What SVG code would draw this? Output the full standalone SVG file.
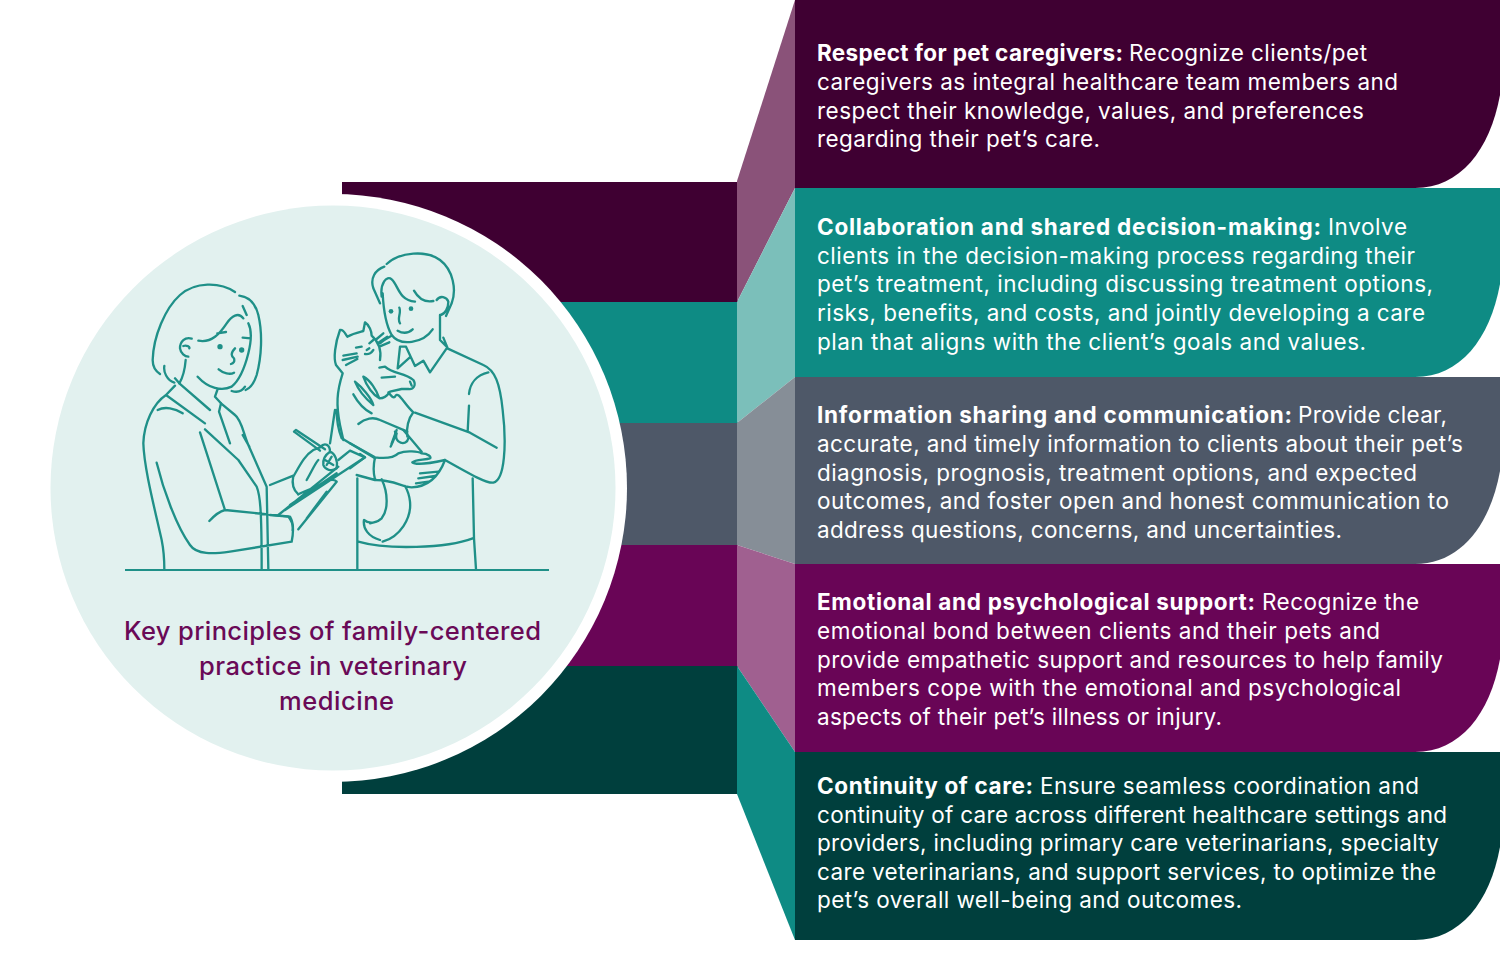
<svg xmlns="http://www.w3.org/2000/svg" width="1500" height="965" viewBox="0 0 1500 965">
<style>
.t{font-family:"Inter","Open Sans","Liberation Sans",sans-serif;font-size:22.5px;fill:#fff;font-weight:400}
.b{font-weight:700}
.c{font-family:"Inter","Open Sans","Liberation Sans",sans-serif;font-size:25.5px;fill:#6a0a57;font-weight:500}
.l{fill:none;stroke:#1f9088;stroke-width:7;stroke-linecap:round;stroke-linejoin:round}
.d{fill:#1f9088}
</style>
<rect width="1500" height="965" fill="#fff"/>
<g id="connectors">
<rect x="342" y="182" width="396" height="120" fill="#3f0032"/>
<rect x="342" y="302" width="396" height="121" fill="#0e8b84"/>
<rect x="342" y="423" width="396" height="122" fill="#4e5868"/>
<rect x="342" y="545" width="396" height="121" fill="#690556"/>
<rect x="342" y="666" width="396" height="128" fill="#003f3d"/>
<polygon points="737,181 795,0 795,188 737,302" fill="#8a5279"/>
<polygon points="737,302 795,188 795,377 737,423" fill="#7bbfba"/>
<polygon points="737,423 795,377 795,564 737,545" fill="#868e97"/>
<polygon points="737,545 795,564 795,752 737,666" fill="#a06090"/>
<polygon points="737,666 795,752 795,940 737,794" fill="#0e8b84"/>
</g>
<g id="hub">
<circle cx="333" cy="488" r="294" fill="#fff"/>
<circle cx="333" cy="488" r="282.5" fill="#e2f1ef"/>
<g transform="translate(120 240) scale(.33333)">
<path class="l" d="M345 156C300 125 225 125 180 165C135 205 100 290 98 360C98 380 105 392 120 402M358 167C385 170 405 185 415 225C428 280 425 350 410 405C402 430 390 445 377 450M368 198L380 225M235 302C275 310 300 280 320 250C335 228 355 215 370 235M133 378C130 395 140 420 163 428M215 296C195 290 180 305 180 325C182 340 195 350 205 350M190 318C200 315 210 320 208 325M197 360C195 385 190 410 178 430L165 415M385 250C395 270 395 300 385 340C375 380 360 420 335 440C305 455 265 445 233 410M335 453C350 458 365 455 375 440M368 293L392 295M292 280L318 276M345 325C330 340 335 350 342 355C345 365 340 370 333 372M296 388C310 400 330 405 342 398M292 450L285 470L303 490"/>
<circle class="d" cx="300" cy="320" r="8"/><circle class="d" cx="365" cy="330" r="8"/>
<path class="l" d="M178 430L270 510M165 437L138 465L255 550M138 465C100 490 72 550 70 610C72 680 100 790 125 900C133 940 133 965 133 988M113 510C135 498 165 505 188 520M255 568L355 660M303 490L297 515L330 610M303 490L345 525C365 540 370 580 385 615L440 740L445 988M240 577L315 810M368 585L388 620M355 660L410 740C420 765 425 800 425 988M110 668C130 750 170 860 210 915C230 945 280 942 330 935L515 905C520 880 522 850 510 830L315 810C295 815 280 830 268 843"/>
</g>
<g transform="translate(270 410) scale(.33333)">
<path class="l" d="M0 225L70 197C65 220 70 240 85 253M70 200C90 165 105 135 130 120L150 112M110 210C125 185 135 160 145 150M72 65L78 60L165 118M72 65L150 122M150 112C165 95 180 105 180 125C195 130 205 155 200 175C185 185 165 180 160 165C158 150 165 135 180 125M165 150L190 165M170 165L185 140"/>
<path class="l" d="M25 315L205 170M205 150L240 122L285 142L45 300M60 285L200 190M85 253C100 245 130 235 150 225M85 358L200 215C190 205 170 210 150 225M110 325L170 245M0 315L55 320C70 340 70 350 68 360M195 0C190 30 185 70 180 100M200 0C200 30 205 60 215 85L315 145"/>
</g>
<g transform="translate(320 240) scale(.33333)">
<path class="l" d="M200 72C240 35 320 30 360 60C400 90 410 150 395 190L378 228M193 80C165 90 150 115 160 145L180 190M185 170C180 130 200 105 215 118C235 135 235 180 285 185M282 152C295 175 315 188 340 183M350 180C360 165 380 170 385 185C385 205 375 222 362 225M188 160C190 200 195 250 215 285C240 320 310 310 338 268M238 203C245 220 230 235 240 250M233 272C250 282 265 280 278 268M360 225L360 300L380 320M258 320L240 320L233 385L272 350L258 320M272 350L285 378L310 362L330 397L382 322L370 293"/>
<circle class="d" cx="213" cy="214" r="7"/><circle class="d" cx="273" cy="206" r="7"/>
<path class="l" d="M382 325L490 375C525 390 540 430 548 510C560 610 555 720 520 728C500 730 460 708 375 660M505 397C470 405 450 430 447 462M447 497L443 575M285 518L450 578L530 623M458 715L462 895L468 988M112 715V988M115 905C200 930 380 925 458 895"/>
</g>
<g transform="translate(330 315) scale(.33333)">
<path class="l" d="M30 45C15 85 10 130 18 150L38 175C20 230 18 270 30 330L40 375M30 45C40 42 45 55 52 65C70 55 85 52 100 48L105 22C118 30 125 50 125 62C145 80 155 105 150 135M40 122L80 115M38 135L83 125M48 150L82 132M140 72L160 55M143 85L172 65M148 95L178 82M78 98L95 95M118 85L130 75M110 105L118 100M105 117C120 120 125 112 130 105M148 158L165 155C190 178 225 172 250 195C260 210 250 225 235 222L215 222L180 230M155 188L195 185M240 200L245 212"/>
<path class="l" d="M100 185C120 195 140 225 148 250C130 240 110 215 100 185M75 200C95 215 125 250 130 270C105 250 85 225 75 200M70 238C85 265 105 285 125 295M175 232C185 245 190 250 195 245C205 225 220 265 250 292M148 250C160 250 170 245 178 232M85 327C105 310 130 305 150 315L232 350M250 292C235 310 228 340 232 365M200 345L185 385M185 62C170 70 160 75 150 85"/>
</g>
<g transform="translate(350 430) scale(.33333)">
<path class="l" d="M0 40L75 82C100 85 130 85 145 70C170 60 205 65 215 70C235 70 245 82 240 85C225 90 195 88 187 97C195 105 240 100 285 90C270 130 240 170 185 172C160 172 130 150 80 150L72 148M75 82C70 105 70 130 75 148M20 135L75 150M0 115L45 82L30 72M210 130L265 125M205 145L255 138M198 160L235 155M95 148C115 190 115 240 95 265C85 275 60 285 42 270C38 295 55 320 90 330M60 280L80 275M98 335C150 320 185 265 180 215C178 195 172 180 165 168M135 5C140 15 130 30 122 50M140 10C130 40 170 50 175 25M160 0L215 65"/>
</g>
<path d="M125 570H549" fill="none" stroke="#1f9088" stroke-width="2.2"/>
<text class="c" x="124" y="640" textLength="417">Key principles of family-centered</text>
<text class="c" x="199" y="675" textLength="268">practice in veterinary</text>
<text class="c" x="279" y="710" textLength="115">medicine</text>
</g>
<g id="node1">
<path d="M795 0H1500V95C1490 150 1460 188 1415 188H795Z" fill="#3f0032"/>
<text class="t b" x="817" y="61" textLength="306">Respect for pet caregivers:</text>
<text class="t" x="1129" y="61" textLength="238">Recognize clients/pet</text>
<text class="t" x="817" y="90" textLength="581">caregivers as integral healthcare team members and</text>
<text class="t" x="817" y="119" textLength="547">respect their knowledge, values, and preferences</text>
<text class="t" x="817" y="147" textLength="283">regarding their pet’s care.</text>
</g>
<g id="node2">
<path d="M795 188H1500V284C1490 339 1460 377 1415 377H795Z" fill="#0e8b84"/>
<text class="t b" x="817" y="235" textLength="504">Collaboration and shared decision-making:</text>
<text class="t" x="1328" y="235" textLength="79">Involve</text>
<text class="t" x="817" y="264" textLength="598">clients in the decision-making process regarding their</text>
<text class="t" x="817" y="292" textLength="616">pet’s treatment, including discussing treatment options,</text>
<text class="t" x="817" y="321" textLength="608">risks, benefits, and costs, and jointly developing a care</text>
<text class="t" x="817" y="350" textLength="549">plan that aligns with the client’s goals and values.</text>
</g>
<g id="node3">
<path d="M795 377H1500V471C1490 526 1460 564 1415 564H795Z" fill="#4e5868"/>
<text class="t b" x="817" y="423" textLength="475">Information sharing and communication:</text>
<text class="t" x="1298" y="423" textLength="149">Provide clear,</text>
<text class="t" x="817" y="452" textLength="646">accurate, and timely information to clients about their pet’s</text>
<text class="t" x="817" y="481" textLength="600">diagnosis, prognosis, treatment options, and expected</text>
<text class="t" x="817" y="509" textLength="632">outcomes, and foster open and honest communication to</text>
<text class="t" x="817" y="538" textLength="525">address questions, concerns, and uncertainties.</text>
</g>
<g id="node4">
<path d="M795 564H1500V659C1490 714 1460 752 1415 752H795Z" fill="#690556"/>
<text class="t b" x="817" y="610" textLength="438">Emotional and psychological support:</text>
<text class="t" x="1262" y="610" textLength="157">Recognize the</text>
<text class="t" x="817" y="639" textLength="563">emotional bond between clients and their pets and</text>
<text class="t" x="817" y="668" textLength="626">provide empathetic support and resources to help family</text>
<text class="t" x="817" y="696" textLength="584">members cope with the emotional and psychological</text>
<text class="t" x="817" y="725" textLength="405">aspects of their pet’s illness or injury.</text>
</g>
<g id="node5">
<path d="M795 752H1500V847C1490 902 1460 940 1415 940H795Z" fill="#003f3d"/>
<text class="t b" x="817" y="794" textLength="216">Continuity of care:</text>
<text class="t" x="1040" y="794" textLength="379">Ensure seamless coordination and</text>
<text class="t" x="817" y="823" textLength="630">continuity of care across different healthcare settings and</text>
<text class="t" x="817" y="851" textLength="622">providers, including primary care veterinarians, specialty</text>
<text class="t" x="817" y="880" textLength="619">care veterinarians, and support services, to optimize the</text>
<text class="t" x="817" y="908" textLength="425">pet’s overall well-being and outcomes.</text>
</g>
</svg>
